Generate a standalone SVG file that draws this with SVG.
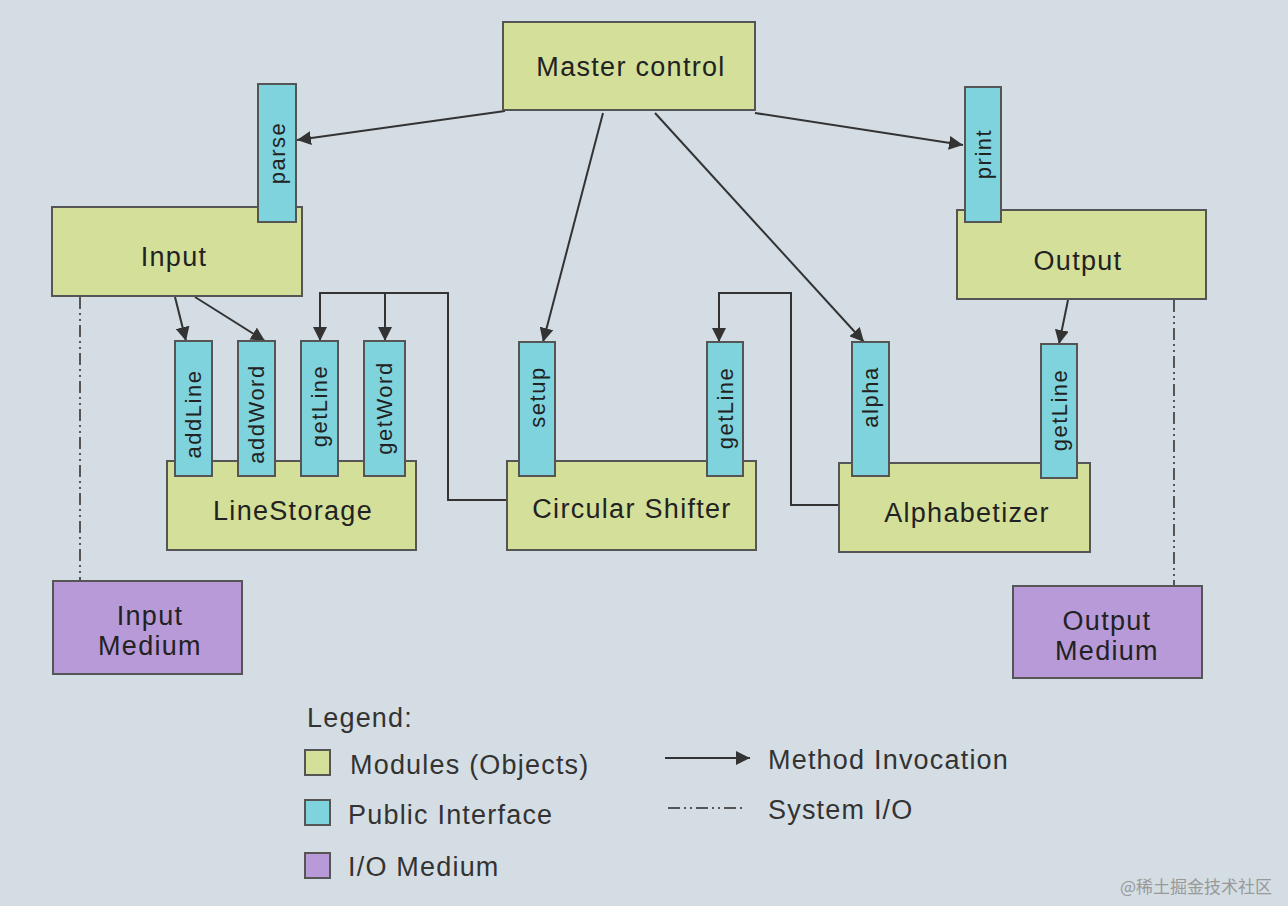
<svg xmlns="http://www.w3.org/2000/svg" width="1288" height="906" viewBox="0 0 1288 906">
<style>
.m{fill:#d4df9a;stroke:#555;stroke-width:2}
.i{fill:#7fd3dc;stroke:#555;stroke-width:2}
.p{fill:#b89ad8;stroke:#555;stroke-width:2}
.t{font-family:"Liberation Sans",Arial,sans-serif;font-size:27px;letter-spacing:1.3px;fill:#222;text-anchor:middle}
.r{font-family:"Liberation Sans",Arial,sans-serif;font-size:22px;letter-spacing:1.5px;fill:#222;text-anchor:middle}
.l{font-family:"Liberation Sans",Arial,sans-serif;font-size:27px;letter-spacing:1.2px;fill:#333}
.c{fill:none;stroke:#333;stroke-width:2}
.d{fill:none;stroke:#555;stroke-width:2;stroke-dasharray:12 4 2 4 2 4}
</style>
<defs><marker id="a" viewBox="0 0 10 10" refX="10" refY="5" markerWidth="7" markerHeight="7" orient="auto"><path d="M0,0L10,5L0,10z" fill="#333"/></marker></defs>
<rect width="1288" height="906" fill="#d4dde3"/>
<g id="connectors">
<path class="c" marker-end="url(#a)" d="M505,111L297,140"/>
<path class="c" marker-end="url(#a)" d="M603,113L543,342"/>
<path class="c" marker-end="url(#a)" d="M655,113L864,342"/>
<path class="c" marker-end="url(#a)" d="M755,113L963,145"/>
<path class="c" marker-end="url(#a)" d="M175,297L186,341"/>
<path class="c" marker-end="url(#a)" d="M195,297L265,341"/>
<path class="c" marker-end="url(#a)" d="M507,500H448V293H320V341"/>
<path class="c" marker-end="url(#a)" d="M385,293V341"/>
<path class="c" marker-end="url(#a)" d="M839,505H791V293H719V342"/>
<path class="c" marker-end="url(#a)" d="M1068,300L1059,344"/>
<path class="d" d="M80,297V581"/>
<path class="d" d="M1174,300V586"/>
</g>
<g id="master"><rect class="m" x="503" y="22" width="252" height="88"/><text class="t" x="631" y="76">Master control</text></g>
<g id="input"><rect class="m" x="52" y="207" width="250" height="89"/><text class="t" x="174" y="266">Input</text></g>
<g id="output"><rect class="m" x="957" y="210" width="249" height="89"/><text class="t" x="1078" y="270">Output</text></g>
<g id="linestorage"><rect class="m" x="167" y="461" width="249" height="89"/><text class="t" x="293" y="520">LineStorage</text></g>
<g id="shifter"><rect class="m" x="507" y="461" width="249" height="89"/><text class="t" x="632" y="518">Circular Shifter</text></g>
<g id="alphabetizer"><rect class="m" x="839" y="463" width="251" height="89"/><text class="t" x="967" y="522">Alphabetizer</text></g>
<g id="inmedium"><rect class="p" x="53" y="581" width="189" height="93"/><text class="t" x="150" y="625">Input</text><text class="t" x="150" y="655">Medium</text></g>
<g id="outmedium"><rect class="p" x="1013" y="586" width="189" height="92"/><text class="t" x="1107" y="630">Output</text><text class="t" x="1107" y="660">Medium</text></g>
<g id="parse"><rect class="i" x="258" y="84" width="38" height="138"/><text class="r" transform="translate(285,153) rotate(-90)">parse</text></g>
<g id="print"><rect class="i" x="965" y="87" width="36" height="135"/><text class="r" transform="translate(991,154) rotate(-90)">print</text></g>
<g id="addLine"><rect class="i" x="175" y="341" width="37" height="135"/><text class="r" transform="translate(201,414) rotate(-90)">addLine</text></g>
<g id="addWord"><rect class="i" x="238" y="341" width="37" height="135"/><text class="r" transform="translate(264,414) rotate(-90)">addWord</text></g>
<g id="getLine1"><rect class="i" x="301" y="341" width="37" height="135"/><text class="r" transform="translate(327,406) rotate(-90)">getLine</text></g>
<g id="getWord"><rect class="i" x="364" y="341" width="41" height="135"/><text class="r" transform="translate(392,408) rotate(-90)">getWord</text></g>
<g id="setup"><rect class="i" x="519" y="342" width="36" height="134"/><text class="r" transform="translate(545,397) rotate(-90)">setup</text></g>
<g id="getLine2"><rect class="i" x="707" y="342" width="36" height="134"/><text class="r" transform="translate(733,408) rotate(-90)">getLine</text></g>
<g id="alpha"><rect class="i" x="852" y="342" width="37" height="134"/><text class="r" transform="translate(878,397) rotate(-90)">alpha</text></g>
<g id="getLine3"><rect class="i" x="1041" y="344" width="36" height="134"/><text class="r" transform="translate(1067,410) rotate(-90)">getLine</text></g>
<g id="legend">
<text class="l" x="307" y="727">Legend:</text>
<rect class="m" x="305" y="750" width="25" height="25"/><text class="l" x="350" y="774">Modules (Objects)</text>
<rect class="i" x="305" y="800" width="25" height="25"/><text class="l" x="348" y="824">Public Interface</text>
<rect class="p" x="305" y="853" width="25" height="25"/><text class="l" x="348" y="876">I/O Medium</text>
<path class="c" marker-end="url(#a)" d="M665,758H750"/><text class="l" x="768" y="769">Method Invocation</text>
<path class="d" d="M668,808H745"/><text class="l" x="768" y="819">System I/O</text>
</g>
<text x="1120" y="893" font-family="'Noto Sans CJK SC',sans-serif" font-size="17" fill="#999">@稀土掘金技术社区</text>
</svg>
